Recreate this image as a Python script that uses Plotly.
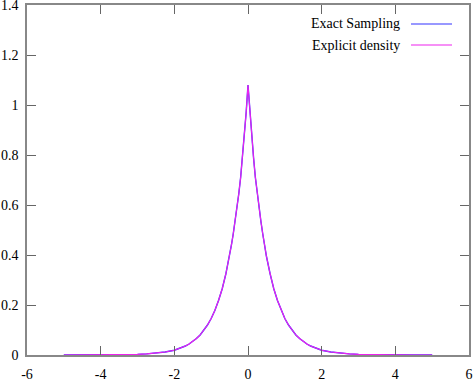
import plotly.graph_objects as go

# Values
x_vals = [-5, -4.5, -4, -3.5, -3, -2.75, -2.5, -2.25, -2, -1.9, -1.8, -1.7, -1.6, -1.5, -1.4, -1.3, -1.2,
          -1.1, -1, -0.9, -0.8, -0.7, -0.6, -0.5, -0.45, -0.4, -0.35, -0.3, -0.25, -0.2, -0.15, -0.1,
          -0.05, 0, 0.05, 0.1, 0.15, 0.2, 0.25, 0.3, 0.35, 0.4, 0.45, 0.5, 0.6, 0.7, 0.8, 0.9, 1, 1.1,
          1.2, 1.3, 1.4, 1.5, 1.6, 1.7, 1.8, 1.9, 2, 2.25, 2.5, 2.75, 3, 3.5, 4, 4.5, 5]
exact_sampling = [0.0, 0.0001, 0.0004, 0.001, 0.0027, 0.0045, 0.0075, 0.012, 0.019, 0.024, 0.03, 0.036,
                  0.044, 0.054, 0.066, 0.08, 0.098, 0.12, 0.146, 0.178, 0.218, 0.265, 0.325, 0.395, 0.44,
                  0.485, 0.535, 0.59, 0.645, 0.71, 0.79, 0.875, 0.97, 1.08, 0.97, 0.875, 0.79, 0.71,
                  0.645, 0.59, 0.535, 0.485, 0.44, 0.395, 0.325, 0.265, 0.218, 0.178, 0.146, 0.12, 0.098,
                  0.08, 0.066, 0.054, 0.044, 0.036, 0.03, 0.024, 0.019, 0.012, 0.0075, 0.0045, 0.0027,
                  0.001, 0.0004, 0.0001, 0.0]
explicit_density = [0.0, 0.0001, 0.0004, 0.001, 0.0027, 0.0045, 0.0075, 0.012, 0.019, 0.024, 0.03, 0.036,
                    0.044, 0.054, 0.066, 0.08, 0.098, 0.12, 0.146, 0.178, 0.218, 0.265, 0.325, 0.395, 0.44,
                    0.485, 0.535, 0.59, 0.645, 0.71, 0.79, 0.875, 0.97, 1.08, 0.97, 0.875, 0.79, 0.71,
                    0.645, 0.59, 0.535, 0.485, 0.44, 0.395, 0.325, 0.265, 0.218, 0.178, 0.146, 0.12, 0.098,
                    0.08, 0.066, 0.054, 0.044, 0.036, 0.03, 0.024, 0.019, 0.012, 0.0075, 0.0045, 0.0027,
                    0.001, 0.0004, 0.0001, 0.0]
series_names = ["Exact Sampling", "Explicit density"]
series_colors = ["#3333ff", "#ee22ee"]

x_ticks = [-6, -4, -2, 0, 2, 4, 6]
y_ticks = [0, 0.2, 0.4, 0.6, 0.8, 1, 1.2, 1.4]

W, H = 474, 380
ml, mr, mt, mb = 27, 5, 5, 25
pw, ph = W - ml - mr, H - mt - mb

fig = go.Figure()
for name, ys, col, w in zip(series_names, [exact_sampling, explicit_density], series_colors, [1.4, 1.1]):
    fig.add_trace(go.Scatter(x=x_vals, y=ys, mode="lines", name=name,
                             line=dict(color=col, width=w), showlegend=False))

font = dict(family="Liberation Serif", size=14, color="black")

# manual legend (gnuplot style: text right-aligned, sample line after)
text_right_px = 402
line_x0_px, line_x1_px = 411, 452
rows_px = [24, 45]
for name, col, ypx in zip(series_names, series_colors, rows_px):
    xr = (text_right_px - ml) / pw
    yp = 1 - (ypx - mt) / ph
    fig.add_annotation(x=xr, y=yp, xref="paper", yref="paper", text=name, showarrow=False,
                       xanchor="right", yanchor="middle", font=font)
    fig.add_shape(type="line", xref="paper", yref="paper",
                  x0=(line_x0_px - ml) / pw, x1=(line_x1_px - ml) / pw, y0=yp, y1=yp,
                  line=dict(color=col, width=1.2))

axis_common = dict(showgrid=False, zeroline=False, showline=True, linecolor="#888888", linewidth=1.5,
                   mirror="ticks", ticks="inside", ticklen=9, tickcolor="#666666", tickwidth=1.2,
                   tickfont=font, automargin=False, ticklabeloverflow="allow")
fig.update_xaxes(range=[-6, 6], tickvals=x_ticks, ticktext=[str(v) for v in x_ticks],
                 ticklabelstandoff=5, **axis_common)
fig.update_yaxes(range=[0, 1.4], tickvals=y_ticks, ticktext=[("%g" % v) for v in y_ticks],
                 ticklabelstandoff=4, **axis_common)
fig.update_layout(width=W, height=H, margin=dict(l=ml, r=mr, t=mt, b=mb),
                  plot_bgcolor="white", paper_bgcolor="white", font=font)
fig.write_html("out.html", config={"displayModeBar": False},
               post_script="document.body.style.margin='0';document.body.style.padding='0';"
                           "document.body.style.overflow='hidden';")
